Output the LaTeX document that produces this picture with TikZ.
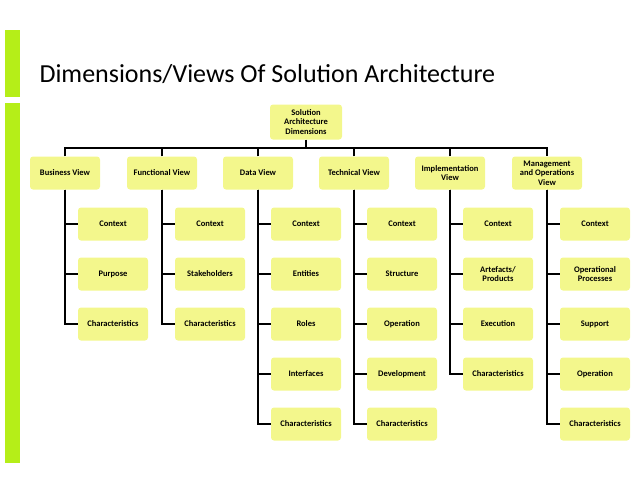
\documentclass[tikz,border=0pt]{standalone}
\usepackage{fontspec}
\setmainfont{Carlito}
\definecolor{boxy}{HTML}{F3F78C}
\definecolor{barg}{HTML}{B5EE18}
\begin{document}
\begin{tikzpicture}[x=1pt,y=-1pt,
  box/.style={fill=boxy,rounded corners=3pt,minimum width=70pt,minimum height=33pt,align=center,font=\bfseries\fontsize{8.5}{9.5}\selectfont,inner sep=1pt},
  conn/.style={line width=1.3pt}]
\useasboundingbox (0,0) rectangle (638,493);
\fill[barg] (5,30) rectangle (20,97);
\fill[barg] (5,103) rectangle (20,463);
\node[anchor=base west,font=\fontsize{26}{29}\selectfont] (title) at (36,82) {Dimensions/Views Of Solution Architecture};
\node[box,minimum width=72pt,minimum height=35pt] (root) at (306,122) {Solution\\Architecture\\Dimensions};
\coordinate (bus) at (306,148);
\foreach \n/\x/\t in {b/65/Business View,f/162/Functional View,d/258/Data View,t/354/Technical View,i/450/Implementation\\View,m/547/Management\\and Operations\\View}{
  \node[box] (\n) at (\x,173) {\t};
}
\draw[conn] (root.south) -- (bus);
\draw[conn] (b.north) |- (bus) -| (m.north);
\foreach \n in {f,d,t,i}{\draw[conn] (\n.north) -- (\n.north |- bus);}
\foreach \n/\x/\list in {
  b/113/{Context,Purpose,Characteristics},
  f/210/{Context,Stakeholders,Characteristics},
  d/306/{Context,Entities,Roles,Interfaces,Characteristics},
  t/402/{Context,Structure,Operation,Development,Characteristics},
  i/498/{Context,Artefacts/\\Products,Execution,Characteristics},
  m/595/{Context,Operational\\Processes,Support,Operation,Characteristics}}{
  \foreach \c [count=\k] in \list {
    \node[box] (\n\k) at (\x,{174+50*\k}) {\c};
    \draw[conn] (\n.south) |- (\n\k.west);
  }
}
\end{tikzpicture}
\end{document}
